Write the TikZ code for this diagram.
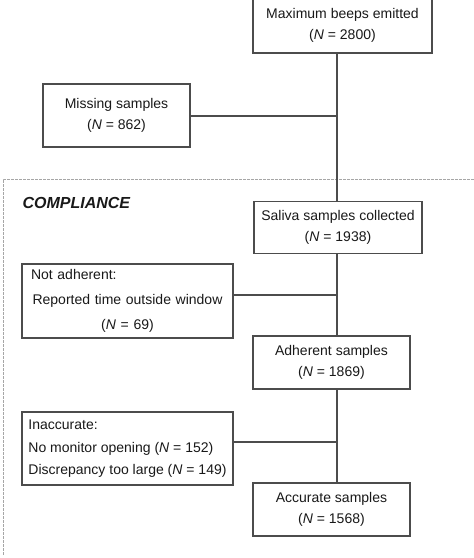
\documentclass[tikz,border=0pt]{standalone}
\usepackage{fontspec}
\setmainfont{Liberation Sans}
\begin{document}
\begin{tikzpicture}[x=1pt,y=-1pt,
  box/.style={draw=black!70,line width=1.2pt,rectangle,inner sep=0pt,align=center,
    font=\fontsize{14}{21}\selectfont,text=black!90},
  lbox/.style={box,align=left},
  link/.style={draw=black!70,line width=1.2pt},
  frame/.style={draw=black!35,line width=0.8pt,dash pattern=on 3pt off 1pt}]
\useasboundingbox (0,0) rectangle (474,558);
\fill[white] (0,0) rectangle (474,558);
% section frame
\coordinate (fa) at (3,179);
\coordinate (fb) at (474,179);
\coordinate (fc) at (3,556);
\draw[frame] (fb) -- (fa) -- (fc);
\node[font=\fontsize{16}{18}\selectfont\bfseries\itshape,anchor=west,text=black!90] (comp) at (19,203) {COMPLIANCE};
% boxes
\node[box,minimum width=179pt,minimum height=56pt] (max) at (342.5,25) {Maximum beeps emitted\\(\textit{N} = 2800)};
\node[box,minimum width=147pt,minimum height=63pt] (miss) at (116.5,115.5) {Missing samples\\(\textit{N} = 862)};
\node[box,minimum width=168pt,minimum height=52pt] (sal) at (338,227.5) {Saliva samples collected\\(\textit{N} = 1938)};
\node[box,minimum width=211pt,minimum height=74pt,text width=193pt,inner xsep=9pt,
  font=\fontsize{14}{25}\selectfont] (nadh) at (127.5,301)
  {\makebox[\linewidth][l]{Not adherent:}\\Reported time outside window\\(\textit{N} = 69)};
\node[box,minimum width=157pt,minimum height=53pt] (adh) at (331.5,362.5) {Adherent samples\\(\textit{N} = 1869)};
\node[lbox,minimum width=211pt,minimum height=73pt,
  font=\fontsize{14}{22}\selectfont] (inacc) at (127.5,448.5)
  {Inaccurate:\\[1pt]No monitor opening (\textit{N} = 152)\\Discrepancy too large (\textit{N} = 149)};
\node[box,minimum width=157pt,minimum height=53pt] (acc) at (331.5,509.5) {Accurate samples\\(\textit{N} = 1568)};
% connectors
\coordinate (j1) at (337,116);
\coordinate (j2) at (337,295);
\coordinate (j3) at (337,442);
\draw[link] (max.south -| j1) -- (sal.north -| j1);
\draw[link] (miss.east |- j1) -- (j1);
\draw[link] (sal.south -| j2) -- (adh.north -| j2);
\draw[link] (nadh.east |- j2) -- (j2);
\draw[link] (adh.south -| j3) -- (acc.north -| j3);
\draw[link] (inacc.east |- j3) -- (j3);
\end{tikzpicture}
\end{document}
